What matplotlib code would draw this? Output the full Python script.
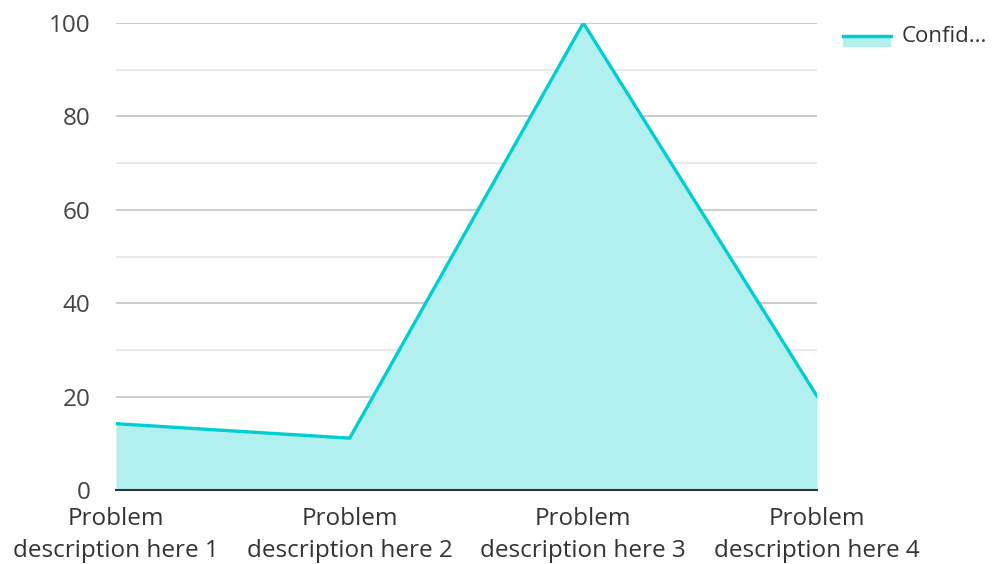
import matplotlib.pyplot as plt
from matplotlib.lines import Line2D
from matplotlib.patches import Rectangle

plt.rcParams['font.family'] = ['Open Sans', 'DejaVu Sans']

categories = ['Problem\ndescription here 1', 'Problem\ndescription here 2',
              'Problem\ndescription here 3', 'Problem\ndescription here 4']
confidence = [14.2, 11.1, 100, 20.1]
series_name = 'Confid...'

line_color = '#00CED1'
fill_color = '#B2EFEF'

fig = plt.figure(figsize=(9.99, 5.64), dpi=100)
ax = fig.add_axes([116 / 999, 1 - 490 / 564, (817 - 116) / 999, (490 - 23) / 564])

x = list(range(len(categories)))
ax.fill_between(x, confidence, 0, color=fill_color, linewidth=0, zorder=1)
ax.plot(x, confidence, color=line_color, linewidth=2.4, zorder=3)

ax.set_xlim(0, len(categories) - 1)
ax.set_ylim(0, 100)
ax.set_xticks(x)
ax.set_xticklabels(categories, fontsize=17.5, color='#333333', linespacing=1.45)
ax.set_yticks(range(0, 101, 20))
ax.set_yticks(range(10, 100, 20), minor=True)
ax.tick_params(axis='y', which='both', length=0, labelsize=17.5, labelcolor='#444444', pad=18.5)
ax.tick_params(axis='x', length=0, pad=12)

ax.grid(axis='y', which='major', color='#c4c4c4', linewidth=1.2, zorder=0)
ax.grid(axis='y', which='minor', color='#e6e6e6', linewidth=1.2, zorder=0)
ax.set_axisbelow(True)
for s in ['top', 'right', 'left']:
    ax.spines[s].set_visible(False)
ax.spines['bottom'].set_color('#333333')
ax.spines['bottom'].set_linewidth(1.5)
ax.spines['bottom'].set_zorder(4)

# legend
fig.add_artist(Rectangle((843 / 999, 1 - 47 / 564), 48 / 999, 12 / 564,
                         transform=fig.transFigure, color=fill_color, linewidth=0))
fig.add_artist(Line2D([843 / 999, 891 / 999], [1 - 36 / 564, 1 - 36 / 564],
                      transform=fig.transFigure, color=line_color, linewidth=2.5))
fig.text(902 / 999, 1 - 36 / 564, series_name, fontsize=16, color='#333333', va='center')

fig.savefig('out.png', dpi=100)
